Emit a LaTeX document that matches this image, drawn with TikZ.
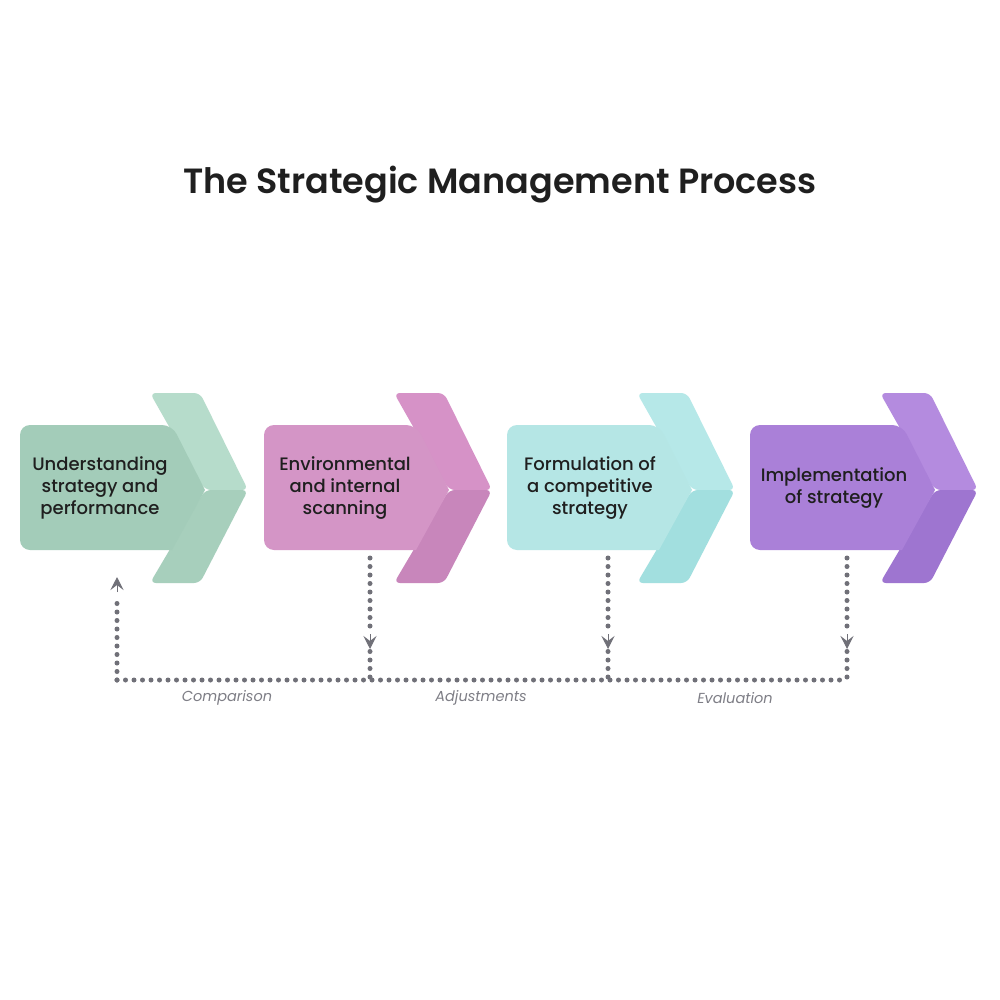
\documentclass[tikz,border=0pt]{standalone}
\usepackage{fontspec}
\setmainfont{Poppins}
\newfontfamily\medfont{Poppins Medium}
\newfontfamily\semifont{Poppins SemiBold}
\usetikzlibrary{arrows.meta,calc}
\definecolor{ga}{HTML}{A3CCB9}\definecolor{gb}{HTML}{B6DCCB}\definecolor{gc}{HTML}{A7CFBC}
\definecolor{pa}{HTML}{D495C6}\definecolor{pb}{HTML}{D692C7}\definecolor{pc}{HTML}{C886BB}
\definecolor{ca}{HTML}{B5E6E5}\definecolor{cb}{HTML}{B6E8E8}\definecolor{cc}{HTML}{A2DFDF}
\definecolor{va}{HTML}{AA80D8}\definecolor{vb}{HTML}{B48BDF}\definecolor{vc}{HTML}{9E75D0}
\definecolor{dotc}{HTML}{707078}
\tikzset{lbl/.style={font=\fontsize{14.5}{18}\selectfont\itshape, text=dotc!90},
 txt/.style={font=\medfont\fontsize{18}{22}\selectfont, text=black!88, align=center},
 dotl/.style={dotc, line width=5pt, dash pattern=on 0pt off 8.5pt, line cap=round},
 tip/.style={-{Stealth[length=13pt,width=13pt,inset=5pt]}}}
\newcommand{\stepshape}[5]{%
 \begin{scope}[xshift=#1]
 \fill[#3, rounded corners=6pt] (150,393) -- (200,393) -- (248,490) -- (205,490) -- cycle;
 \fill[#4, rounded corners=6pt] (150,583) -- (200,583) -- (248,490) -- (205,490) -- cycle;
 \fill[#2, rounded corners=10pt] (20,425) -- (172,425) [sharp corners] -- (205,490) -- (172,550) [rounded corners=10pt]-- (20,550) -- cycle;
 \node (#5) at (98,488) {};
 \end{scope}}
\begin{document}
\begin{tikzpicture}[x=1pt,y=-1pt]
\fill[white] (0,0) rectangle (1000,1000);
\useasboundingbox (0,0) rectangle (1000,1000);
\node[font=\semifont\fontsize{35}{40}\selectfont, text=black!88] (title) at (500,185) {The Strategic Management Process};
\stepshape{0}{ga}{gb}{gc}{s1}
\stepshape{244}{pa}{pb}{pc}{s2}
\stepshape{487}{ca}{cb}{cc}{s3}
\stepshape{730}{va}{vb}{vc}{s4}
\node[txt] at (100,488) {Understanding\\strategy and\\performance};
\node[txt] at (345,488) {Environmental\\and internal\\scanning};
\node[txt] at (590,488) {Formulation of\\a competitive\\strategy};
\node[txt] at (834,488) {Implementation\\of strategy};
\coordinate (c1) at (117,680); \coordinate (c2) at (370,680);
\coordinate (c3) at (608,680); \coordinate (c4) at (847,680);
\coordinate (u1) at (117,577);
\coordinate (d2) at (370,558); \coordinate (d3) at (608,558); \coordinate (d4) at (847,558);
\draw[dotl] (c1) -- (c4);
\draw[dotl] (c1) -- (117,598);
\fill[white] (110,577) rectangle (124,592);
\draw[dotc, tip, line width=1pt] (117,592) -- (u1);
\foreach \i in {2,3,4}{
 \draw[dotl] (d\i) -- (c\i);
 \fill[white] ($(d\i)+(-7,74)$) rectangle ($(d\i)+(7,91)$);
 \draw[dotc, tip, line width=1pt] ($(d\i)+(0,76)$) -- ($(d\i)+(0,91)$);
}
\node[lbl] (l1) at (227,698) {Comparison};
\node[lbl] (l2) at (481,698) {Adjustments};
\node[lbl] (l3) at (735,698) {Evaluation};
\end{tikzpicture}
\end{document}
